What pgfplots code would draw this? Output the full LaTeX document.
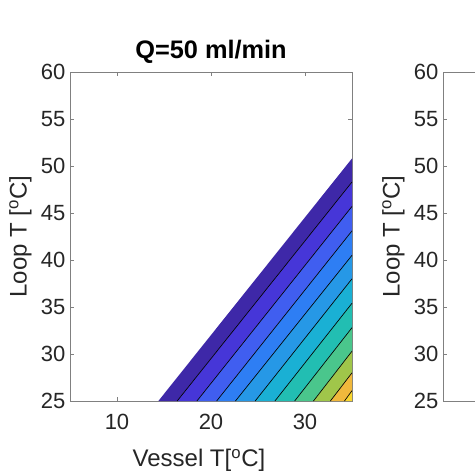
\documentclass[border=0pt]{standalone}
\usepackage{pgfplots}
\pgfplotsset{compat=1.18}
\usepackage{fontspec}
\setmainfont{Liberation Sans}
\definecolor{c0}{RGB}{62,40,168}
\definecolor{c1}{RGB}{70,54,216}
\definecolor{c2}{RGB}{64,94,240}
\definecolor{c3}{RGB}{46,126,244}
\definecolor{c4}{RGB}{38,152,230}
\definecolor{c5}{RGB}{26,176,212}
\definecolor{c6}{RGB}{34,190,178}
\definecolor{c7}{RGB}{74,198,140}
\definecolor{c8}{RGB}{160,198,74}
\definecolor{c9}{RGB}{240,184,60}
\definecolor{c10}{RGB}{249,214,46}
\definecolor{axgray}{RGB}{128,128,128}
\definecolor{txt}{RGB}{38,38,38}
\pgfplotsset{
  mat/.style={
    anchor=south west, scale only axis, width=211.5pt, height=246.75pt,
    xmin=5, xmax=35, ymin=25, ymax=60,
    xtick={10,20,30}, ytick={25,30,35,40,45,50,55,60},
    tick align=inside, major tick length=3pt,
    axis line style={axgray, line width=0.5pt},
    every tick/.style={axgray, line width=0.5pt},
    /pgf/number format/assume math mode=true,
    tick label style={font=\fontsize{16.5}{18}\selectfont, text=txt},
    xticklabel style={yshift=-6pt},
    label style={font=\fontsize{18}{20}\selectfont, text=txt},
    ylabel={Loop T [\textsuperscript{o}C]},
    clip=true,
  }
}
\begin{document}
\begin{tikzpicture}
\useasboundingbox (0,0) rectangle (355.5pt,355.5pt);
\begin{axis}[mat, at={(52.5pt,54.75pt)},
  title={Q=50 ml/min},
  title style={font=\fontsize{19}{21}\selectfont\bfseries, text=black, yshift=-3pt},
  xlabel={Vessel T[\textsuperscript{o}C]},
  xlabel style={xshift=-9pt, yshift=-8pt}]
\addplot[fill=c0, draw=none] coordinates {(14.4,25) (35,50.8) (35,48.3) (16.4,25)} --cycle;
\addplot[fill=c1, draw=none] coordinates {(16.4,25) (35,48.3) (35,45.7) (18.5,25)} --cycle;
\addplot[fill=c2, draw=none] coordinates {(18.5,25) (35,45.7) (35,43.1) (20.6,25)} --cycle;
\addplot[fill=c3, draw=none] coordinates {(20.6,25) (35,43.1) (35,40.5) (22.6,25)} --cycle;
\addplot[fill=c4, draw=none] coordinates {(22.6,25) (35,40.5) (35,38.0) (24.7,25)} --cycle;
\addplot[fill=c5, draw=none] coordinates {(24.7,25) (35,38.0) (35,35.4) (26.8,25)} --cycle;
\addplot[fill=c6, draw=none] coordinates {(26.8,25) (35,35.4) (35,32.8) (28.9,25)} --cycle;
\addplot[fill=c7, draw=none] coordinates {(28.9,25) (35,32.8) (35,30.3) (30.9,25)} --cycle;
\addplot[fill=c8, draw=none] coordinates {(30.9,25) (35,30.3) (35,28.0) (32.7,25)} --cycle;
\addplot[fill=c9, draw=none] coordinates {(32.7,25) (35,28.0) (35,26.1) (34.2,25)} --cycle;
\addplot[fill=c10, draw=none] coordinates {(34.2,25) (35,26.1) (35,25)} --cycle;
\addplot[black, line width=0.5pt] coordinates {(16.4,25) (35,48.3)};
\addplot[black, line width=0.5pt] coordinates {(18.5,25) (35,45.7)};
\addplot[black, line width=0.5pt] coordinates {(20.6,25) (35,43.1)};
\addplot[black, line width=0.5pt] coordinates {(22.6,25) (35,40.5)};
\addplot[black, line width=0.5pt] coordinates {(24.7,25) (35,38.0)};
\addplot[black, line width=0.5pt] coordinates {(26.8,25) (35,35.4)};
\addplot[black, line width=0.5pt] coordinates {(28.9,25) (35,32.8)};
\addplot[black, line width=0.5pt] coordinates {(30.9,25) (35,30.3)};
\addplot[black, line width=0.5pt] coordinates {(32.7,25) (35,28.0)};
\addplot[black, line width=0.5pt] coordinates {(34.2,25) (35,26.1)};
\end{axis}
\begin{axis}[mat, at={(332.25pt,54.75pt)}, xticklabels={}]
\end{axis}
\end{tikzpicture}
\end{document}
